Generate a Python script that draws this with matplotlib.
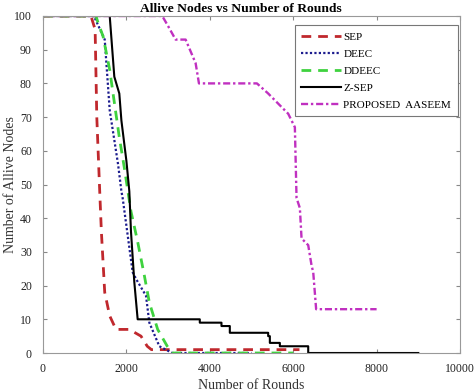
import matplotlib
matplotlib.use("Agg")
import matplotlib.pyplot as plt

# Data (rounds, alive nodes)
sep_x = [0, 1150, 1250, 1290, 1360, 1400, 1480, 1600, 1750, 2070, 2350, 2500, 2600, 6150]
sep_y = [100, 100, 96, 70, 48, 36, 18, 11, 7, 7, 5, 2, 1, 1]

deec_x = [0, 1220, 1480, 1600, 1800, 1880, 1910, 2150, 2230, 2470, 2550, 2790, 3100, 5000]
deec_y = [100, 100, 93, 72, 56, 48, 46, 24, 22, 17, 9, 2, 0, 0]

ddeec_x = [0, 1270, 1320, 1440, 1600, 1680, 1830, 1950, 2110, 2270, 2430, 2550, 2750, 2980, 3100, 6000]
ddeec_y = [100, 100, 98, 94, 84, 77, 64, 55, 42, 33, 23, 15, 7, 2, 0, 0]

zsep_x = [0, 1600, 1710, 1830, 1880, 2000, 2070, 2110, 2190, 2270, 2270, 3760, 3760, 4280, 4280, 4480,
          4480, 5400, 5400, 5440, 5440, 5680, 5680, 6360, 6360, 9000]
zsep_y = [100, 100, 82, 77, 69, 57, 48, 36, 21, 10, 10, 10, 9, 9, 8, 8,
          6, 6, 5, 5, 3, 3, 2, 2, 0, 0]

aaseem_x = [0, 2860, 3000, 3180, 3420, 3660, 3740, 3780, 5130, 5400, 5640, 5880, 6040, 6080, 6160,
            6200, 6360, 6440, 6480, 6550, 8000]
aaseem_y = [100, 100, 97, 93, 93, 86, 80, 80, 80, 77, 74, 71, 67, 46, 43, 34, 32, 26, 24, 13, 13]

x_ticks = [0, 2000, 4000, 6000, 8000, 10000]
y_ticks = [0, 10, 20, 30, 40, 50, 60, 70, 80, 90, 100]

plt.rcParams['font.family'] = ['Liberation Serif', 'DejaVu Serif']

fig = plt.figure(figsize=(4.74, 3.91), dpi=100)
ax = fig.add_axes([43/474, 1-353/391, (460-43)/474, (353-16)/391])

ax.plot(sep_x, sep_y, color='#c0282d', linestyle=(0, (3.5, 2.5)), linewidth=2.0, label='SEP')
ax.plot(deec_x, deec_y, color='#1c1c8e', linestyle=(0, (1, 1)), linewidth=1.6, label='DEEC')
ax.plot(ddeec_x, ddeec_y, color='#3fd23f', linestyle=(0, (3.5, 2.5)), linewidth=2.0, label='DDEEC')
ax.plot(zsep_x, zsep_y, color='black', linestyle='-', linewidth=1.5, label='Z-SEP')
ax.plot(aaseem_x, aaseem_y, color='#c030c0', linestyle=(0, (3, 1.2, 1, 1.2)), linewidth=1.7,
        label='PROPOSED  AASEEM')

ax.set_xlim(0, 10000)
ax.set_ylim(0, 100)
ax.set_xticks(x_ticks)
ax.set_yticks(y_ticks)
ax.tick_params(direction='in', top=True, right=True, length=3, labelsize=8.5,
               color='#888888', labelcolor='#222222')
ax.tick_params(axis='x', pad=7)
ax.tick_params(axis='y', pad=8)
for s in ax.spines.values():
    s.set_color('#999999')
    s.set_linewidth(0.8)

ax.set_title('Allive Nodes vs Number of Rounds', fontsize=9.7, fontweight='bold', pad=3, x=0.475)
ax.set_xlabel('Number of Rounds', fontsize=10, color='#333333', labelpad=3)
ax.set_ylabel('Number of Allive Nodes', fontsize=10, color='#333333')
ax.yaxis.set_label_coords(-0.063, 0.5)

leg = ax.legend(loc='upper right', bbox_to_anchor=(0.995, 0.973), borderaxespad=0,
                fontsize=8, handlelength=3.6,
                fancybox=False, framealpha=1, edgecolor='#777777', borderpad=0.6,
                labelspacing=0.65, handletextpad=0.2)
leg.get_frame().set_linewidth(0.8)

fig.savefig('out.png', dpi=100)
